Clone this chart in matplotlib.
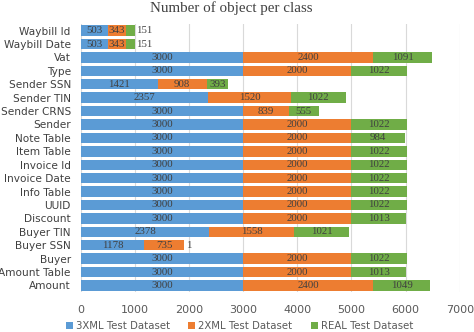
import matplotlib
matplotlib.use("Agg")
import matplotlib.pyplot as plt
import numpy as np

categories = ["Waybill Id", "Waybill Date", "Vat", "Type", "Sender SSN", "Sender TIN",
              "Sender CRNS", "Sender", "Note Table", "Item Table", "Invoice Id",
              "Invoice Date", "Info Table", "UUID", "Discount", "Buyer TIN", "Buyer SSN",
              "Buyer", "Amount Table", "Amount"]
xml3 = [503, 503, 3000, 3000, 1421, 2357, 3000, 3000, 3000, 3000, 3000, 3000, 3000, 3000,
        3000, 2378, 1178, 3000, 3000, 3000]
xml2 = [343, 343, 2400, 2000, 908, 1520, 839, 2000, 2000, 2000, 2000, 2000, 2000, 2000,
        2000, 1558, 735, 2000, 2000, 2400]
real = [151, 151, 1091, 1022, 393, 1022, 555, 1022, 984, 1022, 1022, 1022, 1022, 1022,
        1013, 1021, 1, 1022, 1013, 1049]
series_names = ["3XML Test Dataset", "2XML Test Dataset", "REAL Test Dataset"]
colors = ["#5B9BD5", "#ED7D31", "#70AD47"]
xticks = [0, 1000, 2000, 3000, 4000, 5000, 6000, 7000]

fig = plt.figure(figsize=(4.74, 3.32), dpi=100)
ax = fig.add_axes([0.17, 0.12, 0.800, 0.808])

y = np.arange(len(categories))
left = np.zeros(len(categories))
for vals, name, c in zip([xml3, xml2, real], series_names, colors):
    vals = np.array(vals, dtype=float)
    ax.barh(y, vals, left=left, color=c, height=0.78, label=name, zorder=3)
    for yi, l, v in zip(y, left, vals):
        if v < 200:
            ax.text(l + v + 30, yi, f"{int(v)}", ha="left", va="center",
                    fontsize=7.8, family="Liberation Serif", color="#404040", zorder=4)
        else:
            ax.text(l + v / 2, yi, f"{int(v)}", ha="center", va="center",
                    fontsize=7.8, family="Liberation Serif", color="#404040", zorder=4)
    left = left + vals

ax.set_ylim(len(categories) - 0.5, -0.5)
ax.set_yticks(y)
ax.set_yticklabels(categories, fontsize=7.6, color="#404040")
ax.set_xlim(0, 7000)
ax.set_xticks(xticks)
ax.set_xticklabels([str(t) for t in xticks], fontsize=8.0, color="#595959")
ax.tick_params(length=0)
ax.tick_params(axis="x", pad=9)
ax.tick_params(axis="y", pad=7)
ax.grid(axis="x", color="#D9D9D9", linewidth=0.8, zorder=0)
for s in ax.spines.values():
    s.set_visible(False)

fig.text(0.488, 0.995, "Number of object per class", ha="center", va="top",
         fontsize=10.8, family="Liberation Serif", color="#404040")
fig.legend(loc="lower center", bbox_to_anchor=(0.505, -0.025), ncol=3, frameon=False,
           fontsize=7.3, handlelength=0.7, handleheight=0.7, columnspacing=1.8,
           handletextpad=0.3, labelcolor="#595959")

fig.savefig("out.png", dpi=100)
